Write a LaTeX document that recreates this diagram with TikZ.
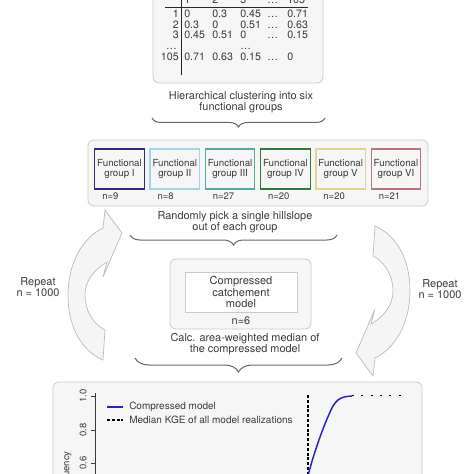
\documentclass[tikz,border=0pt]{standalone}
\usepackage{fontspec}
\setmainfont{TeX Gyre Heros}
\usepackage{tikz}
\usetikzlibrary{decorations.pathreplacing,positioning}

\definecolor{panelfill}{HTML}{F6F6F6}
\definecolor{panelline}{HTML}{CACACA}
\definecolor{txt}{HTML}{3A3A3A}
\definecolor{grpI}{HTML}{2E2C7E}
\definecolor{grpII}{HTML}{A5D4E8}
\definecolor{grpIII}{HTML}{4FAE95}
\definecolor{grpIV}{HTML}{2F7A3C}
\definecolor{grpV}{HTML}{E5D38E}
\definecolor{grpVI}{HTML}{B9727F}
\definecolor{cmblue}{HTML}{2424C4}

\tikzset{
  panel/.style={draw=panelline, fill=panelfill, rounded corners=4.5pt, line width=0.6pt},
  capt/.style={align=center, text=txt, inner sep=0pt, font=\fontsize{8.2}{8.3}\selectfont},
  cell/.style={text=txt, inner sep=0pt, font=\fontsize{8}{8}\selectfont},
  grp/.style={minimum width=37.1pt, minimum height=30pt, inner sep=0pt, line width=0.9pt,
    align=center, text=txt, font=\fontsize{7.3}{7.5}\selectfont},
  nlab/.style={text=txt, inner sep=0pt, font=\fontsize{7.1}{7.1}\selectfont},
  brc/.style={decorate, decoration={brace, mirror, amplitude=#1}, draw=gray!80!black, line width=0.75pt},
  brc/.default=7pt,
  bigarrow/.style={draw=gray!55, fill=gray!8, line width=0.5pt},
  cmline/.style={draw=cmblue, line width=1.1pt},
  medline/.style={draw=black, line width=1.1pt, dash pattern=on 2.2pt off 1.4pt},
}

\begin{document}
\begin{tikzpicture}[x=0.75pt, y=-0.75pt]
  \useasboundingbox (0,0) rectangle (474,474);
  \clip (0,0) rectangle (474,474);

  % distance matrix
  \draw[panel] (153,-20) rectangle (323,83);
  \draw[line width=0.75pt, black!85] (165,8) -- (308,8);
  \draw[line width=0.75pt, black!85] (181,-5) -- (181,75);
  \foreach \cx/\hd in {184/1, 212/2, 240/3, 287/105}
    \node[cell, anchor=base west] at (\cx,4) {\hd};
  \node[cell, anchor=base west] at (267,4) {\ldots};
  \foreach \ry/\lab/\a/\b/\c/\e in {18/1/0/0.3/0.45/0.71, 28.5/2/0.3/0/0.51/0.63,
      39/3/0.45/0.51/0/0.15, 61/105/0.71/0.63/0.15/0} {
    \node[cell, anchor=base east] at (179,\ry) {\lab};
    \node[cell, anchor=base west] at (184,\ry) {\a};
    \node[cell, anchor=base west] at (212,\ry) {\b};
    \node[cell, anchor=base west] at (240,\ry) {\c};
    \node[cell, anchor=base west] at (267,\ry) {\ldots};
    \node[cell, anchor=base west] at (287,\ry) {\e};
  }
  \node[cell, anchor=base east] at (177,49.5) {\ldots};
  \node[cell, anchor=base west] at (240,49.5) {\ldots};

  \node (hc) [capt] at (241,102.5) {Hierarchical clustering into six\\functional groups};
  \draw[brc=6.75pt] (152,118) -- (325,118);

  % functional groups
  \draw[panel] (88,140) rectangle (428,206);
  \foreach \i/\r/\n in {0/I/9, 1/II/8, 2/III/27, 3/IV/20, 4/V/20, 5/VI/21} {
    \node (g\i) [grp, draw=grp\r] at ({119.5+55.3*\i},169) {Functional\\group \r};
    \node (n\i) [nlab, anchor=west] at ({102+55.3*\i},196) {n=\n};
  }

  \node (pick) [capt] at (235,222.5) {Randomly pick a single hillslope\\out of each group};
  \draw[brc=7.5pt] (130,235) -- (337,235);

  % compressed model
  \draw[panel] (170,259) rectangle (311,329);
  \node (cm) [draw=panelline, fill=white, line width=0.6pt, minimum width=84pt, minimum height=30pt,
    capt, font=\fontsize{8.3}{8.6}\selectfont] at (241,292) {Compressed\\catchement\\model};
  \node (n6) [capt] at (241,321) {n=6};

  \node (calc) [capt] at (245,344) {Calc. area-weighted median of\\the compressed model};
  \draw[brc=10.5pt] (135,358) -- (342,358);

  % repeat loops
  \foreach \ang in {0,180} {
    \begin{scope}[rotate around={\ang:(239,293)}]
      \draw[bigarrow] (103,360) .. controls (80,350) and (68,325) .. (68,295)
        .. controls (68,264) and (82,238) .. (103,228) -- (105,210) -- (122,233)
        -- (103,277) -- (107,262) .. controls (93,270) and (85,282) .. (85,295)
        .. controls (85,310) and (93,324) .. (105,330) -- cycle;
    \end{scope}
  }
  \node (repL) [capt] at (38,287.5) {Repeat\\n = 1000};
  \node (repR) [capt] at (440,289.5) {Repeat\\n = 1000};

  % result plot
  \draw[panel] (53,382) rectangle (422,520);
  \draw[line width=0.6pt, txt] (95,393) -- (95,480);
  \foreach \v/\ty in {1.0/396, 0.8/430, 0.6/463} {
    \draw[line width=0.6pt, txt] (91,\ty) -- (95,\ty);
    \node[nlab, rotate=90] at (83,\ty) {\v};
  }
  \node (ylab) [nlab, rotate=90, anchor=east] at (67,451) {Frequency};
  \draw[cmline] (107,407) -- (123,407);
  \node (lg1) [nlab, anchor=west, font=\fontsize{7.5}{7.5}\selectfont] at (129,407) {Compressed model};
  \draw[medline] (107,420) -- (123,420);
  \node (lg2) [nlab, anchor=west, font=\fontsize{7.5}{7.5}\selectfont] at (129,420) {Median KGE of all model realizations};
  \draw[medline] (308,395) -- (308,480);
  \draw[black, line width=1.3pt, dash pattern=on 1.6pt off 5.4pt] (352,395.5) -- (406,395.5);
  \draw[cmline] plot[smooth] coordinates {(307,480) (309,472) (313,458) (320,437) (327,419)
    (333,406) (338,400) (344,397) (352,396)};
\end{tikzpicture}
\end{document}
